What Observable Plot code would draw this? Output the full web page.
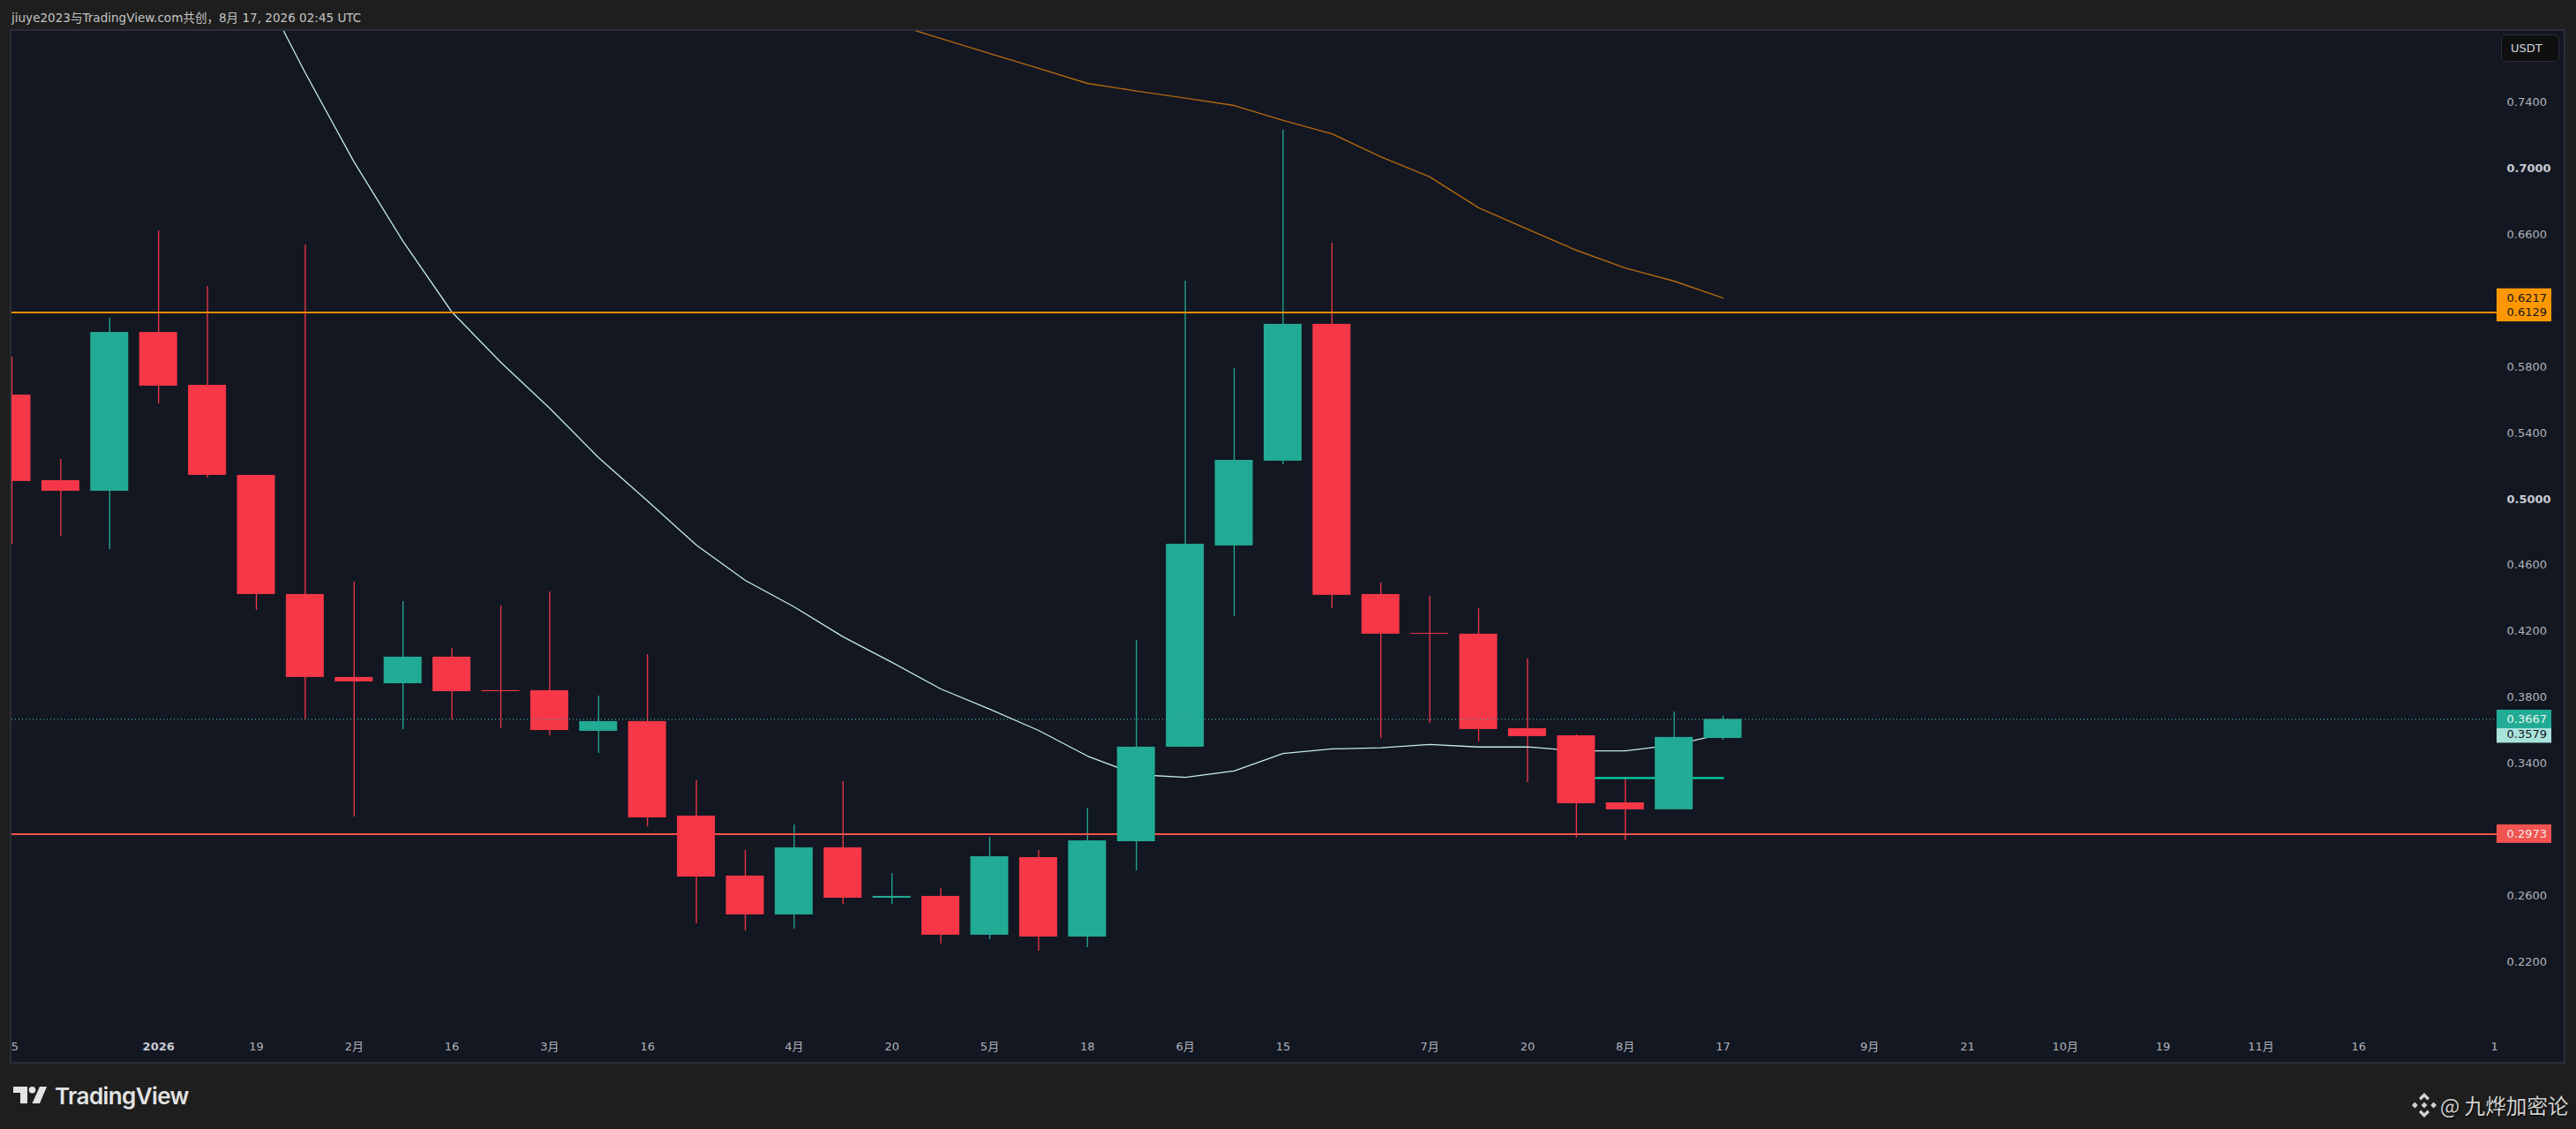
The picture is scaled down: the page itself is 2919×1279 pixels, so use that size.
<!DOCTYPE html>
<html lang="zh">
<head>
<meta charset="utf-8">
<script src="https://cdn.jsdelivr.net/npm/d3@7"></script>
<script src="https://cdn.jsdelivr.net/npm/@observablehq/plot@0.6"></script>
<style>
html,body{margin:0;padding:0;width:2919px;height:1279px;overflow:hidden;background:#1e1e1e;font-family:"DejaVu Sans","Noto Sans CJK SC",sans-serif}
#header{position:absolute;left:13px;top:11px;font-size:13.55px;line-height:18px;color:#c4c4c4;white-space:nowrap}
#chart{position:absolute;left:13px;top:35px;width:2892px;height:1168px;outline:2px solid #2a2e39}
#unit{position:absolute;left:2834px;top:39px;width:66px;height:31px;box-sizing:border-box;background:#0f0f0f;border:1px solid #2a2e39;border-radius:6px;color:#d1d4dc;font-size:13px;line-height:29px;padding-left:10px}
#brand{position:absolute;left:62px;top:1226px;font-family:Inter,sans-serif;font-weight:600;font-size:26px;line-height:32px;letter-spacing:-.6px;color:#e3e3e3}
#logo{position:absolute;left:15px;top:1231px}
#bn{position:absolute;left:2733px;top:1238px}
#mark{position:absolute;left:2765px;top:1235px;font-family:"Noto Sans CJK SC",sans-serif;font-size:23.6px;line-height:34px;color:#d2d2d2;white-space:nowrap;text-shadow:1px 1px 1px #000}
</style>
</head>
<body>
<div id="header">jiuye2023与TradingView.com共创，8月 17, 2026 02:45 UTC</div>
<div id="chart"></div>
<div id="unit">USDT</div>
<svg id="logo" width="38" height="19" viewBox="0 0 38 19"><path fill="#e3e3e3" d="M0 0H16V19H8V7H0Z"/><circle fill="#e3e3e3" cx="21.5" cy="3.8" r="3.8"/><path fill="#e3e3e3" d="M21.5 19L30 0H38L30 19Z"/></svg>
<div id="brand">TradingView</div>
<svg id="bn" width="28" height="28" viewBox="0 0 28 28"><path fill="#d2d2d2" d="M14 0L20 6L17.6 8.4L14 4.8L10.4 8.4L8 6ZM14 28L8 22L10.4 19.6L14 23.2L17.6 19.6L20 22ZM14 10.6L17.4 14L14 17.4L10.6 14ZM3.4 10.6L6.8 14L3.4 17.4L0 14ZM24.6 10.6L28 14L24.6 17.4L21.2 14Z"/></svg>
<div id="mark">@ 九烨加密论</div>
<script>
const opens  = [.5630,.5112,.5048,.6009,.5689,.5144,.4423,.3921,.3883,.4044,.3841,.3841,.3595,.3654,.3082,.2719,.2484,.2890,.2585,.2596,.2361,.2831,.2350,.2927,.3499,.4717,.5230,.6058,.4423,.4188,.4183,.3611,.3568,.3162,.3120,.3552];
const highs  = [.5860,.5240,.6095,.6624,.6287,.5144,.6538,.4498,.4380,.4097,.4353,.4439,.3809,.4060,.3296,.2874,.3029,.3290,.2735,.2644,.2954,.2874,.3130,.4145,.6319,.5790,.7233,.6549,.4492,.4412,.4337,.4033,.3574,.3317,.3712,.3686];
const lows   = [.4727,.4772,.4695,.5577,.5128,.4327,.3664,.3077,.3606,.3664,.3611,.3568,.3461,.3018,.2430,.2388,.2398,.2548,.2548,.2308,.2334,.2265,.2286,.2751,.3499,.4289,.5208,.4337,.3552,.3643,.3531,.3285,.2949,.2932,.3120,.3541];
const closes = [.5107,.5048,.6009,.5684,.5144,.4423,.3921,.3894,.4044,.3835,.3835,.3600,.3654,.3071,.2713,.2484,.2890,.2585,.2596,.2361,.2836,.2350,.2932,.3499,.4727,.5235,.6058,.4418,.4183,.4183,.3606,.3563,.3157,.3120,.3558,.3667];

const maWhiteStart = 5;
const maWhite  = [.8152,.7580,.7040,.6560,.6132,.5828,.5550,.5251,.4989,.4722,.4508,.4348,.4167,.4012,.3851,.3729,.3600,.3445,.3333,.3316,.3355,.3461,.3488,.3495,.3515,.3500,.3500,.3477,.3476,.3513,.3579];
const maOrangeStart = 18;
const maOrange = [.7879,.7788,.7697,.7607,.7516,.7470,.7427,.7382,.7292,.7211,.7072,.6950,.6763,.6634,.6506,.6399,.6319,.6217];

const levelOrange = .6129, levelRed = .2973, levelLast = .3667;
const segment = [{i:32,v:.3312},{i:35,v:.3312}];

const yTicks = [.22,.26,.34,.38,.42,.46,.54,.58,.62,.66,.74,.30];
const yBoldTicks = [.50,.70];
const xTickPos = [.06,5,7,9,11,13,16,18,20,22,24,26,29,31,33,35,38,40,42,44,46,48,50.78];
const xTickLab = ["5","19","2月","16","3月","16","4月","20","5月","18","6月","15","7月","20","8月","17","9月","21","10月","19","11月","16","1"];
const xBoldPos = [3];
const xBoldLab = ["2026"];

const tags = [
  {v:.6217,bg:"#ff9800",fg:"#131722"},
  {v:.6129,bg:"#ff9800",fg:"#131722"},
  {v:.3579,bg:"#a8e4dc",fg:"#131722"},
  {v:.3667,bg:"#22ab94",fg:"#e8f5f2"},
  {v:.2973,bg:"#f05350",fg:"#f5e8e8"}
];

const UP="#22ab94", DOWN="#f53748", LBL="#b0b3ba";
const bars = opens.map((o,i)=>({i,o,h:highs[i],l:lows[i],c:closes[i],col:closes[i]>=o?"up":"down"}));
const w = maWhite.map((v,k)=>({i:k+maWhiteStart,v}));
const og = maOrange.map((v,k)=>({i:k+maOrangeStart,v}));
const half = .388, tagL = 50.83, tagR = 51.95, tagH = .0056;
const labMap = new Map(xTickPos.map((p,k)=>[p,xTickLab[k]]));
const boldMap = new Map(xBoldPos.map((p,k)=>[p,xBoldLab[k]]));
const fmt = d3.format(".4f");

const plot = Plot.plot({
  width:2892, height:1168,
  marginLeft:0, marginRight:76, marginTop:0, marginBottom:31,
  x:{type:"linear",domain:[0,50.83],axis:null},
  y:{type:"linear",domain:[.1757,.7831],axis:null},
  color:{domain:["up","down"],range:[UP,DOWN]},
  style:{background:"#131722",overflow:"hidden",fontFamily:'"DejaVu Sans","Noto Sans CJK SC",sans-serif',fontSize:"13px"},
  marks:[
    Plot.axisY(yTicks,{anchor:"right",tickSize:0,tickPadding:11,tickFormat:fmt,label:null,fill:LBL,fontSize:13}),
    Plot.axisY(yBoldTicks,{anchor:"right",tickSize:0,tickPadding:11,tickFormat:fmt,label:null,fill:"#c8cbd2",fontSize:13,fontWeight:"bold"}),
    Plot.axisX(xTickPos,{anchor:"bottom",tickSize:0,tickPadding:8,tickFormat:d=>labMap.get(d),label:null,fill:LBL,fontSize:13}),
    Plot.axisX(xBoldPos,{anchor:"bottom",tickSize:0,tickPadding:8,tickFormat:d=>boldMap.get(d),label:null,fill:"#c8cbd2",fontSize:13,fontWeight:"bold"}),
    Plot.ruleX(bars,{x:"i",y1:"l",y2:"h",stroke:"col",strokeWidth:1.3}),
    Plot.line(og,{x:"i",y:"v",stroke:"#b5680f",strokeWidth:1.4,curve:"linear"}),
    Plot.line(w,{x:"i",y:"v",stroke:"#c4ece6",strokeWidth:1.3,curve:"linear"}),
    Plot.ruleY([levelOrange],{stroke:"#f08c00",strokeWidth:2}),
    Plot.ruleY([levelRed],{stroke:"#f05350",strokeWidth:2}),
    Plot.line(segment,{x:"i",y:"v",stroke:"#00d4a8",strokeWidth:2.4}),
    Plot.rect(bars,{x1:d=>d.i-half,x2:d=>d.i+half,y1:"o",y2:"c",fill:"col"}),
    Plot.ruleY([levelLast],{stroke:"#4fa89f",strokeWidth:1.2,strokeDasharray:"1 3"}),
    Plot.rect(tags,{x1:tagL,x2:tagR,y1:d=>d.v-tagH,y2:d=>d.v+tagH,fill:d=>d.bg}),
    Plot.text(tags,{x:tagL,dx:11,y:"v",text:d=>fmt(d.v),textAnchor:"start",fill:d=>d.fg,fontSize:13})
  ]
});
document.getElementById("chart").appendChild(plot);
</script>
</body>
</html>
